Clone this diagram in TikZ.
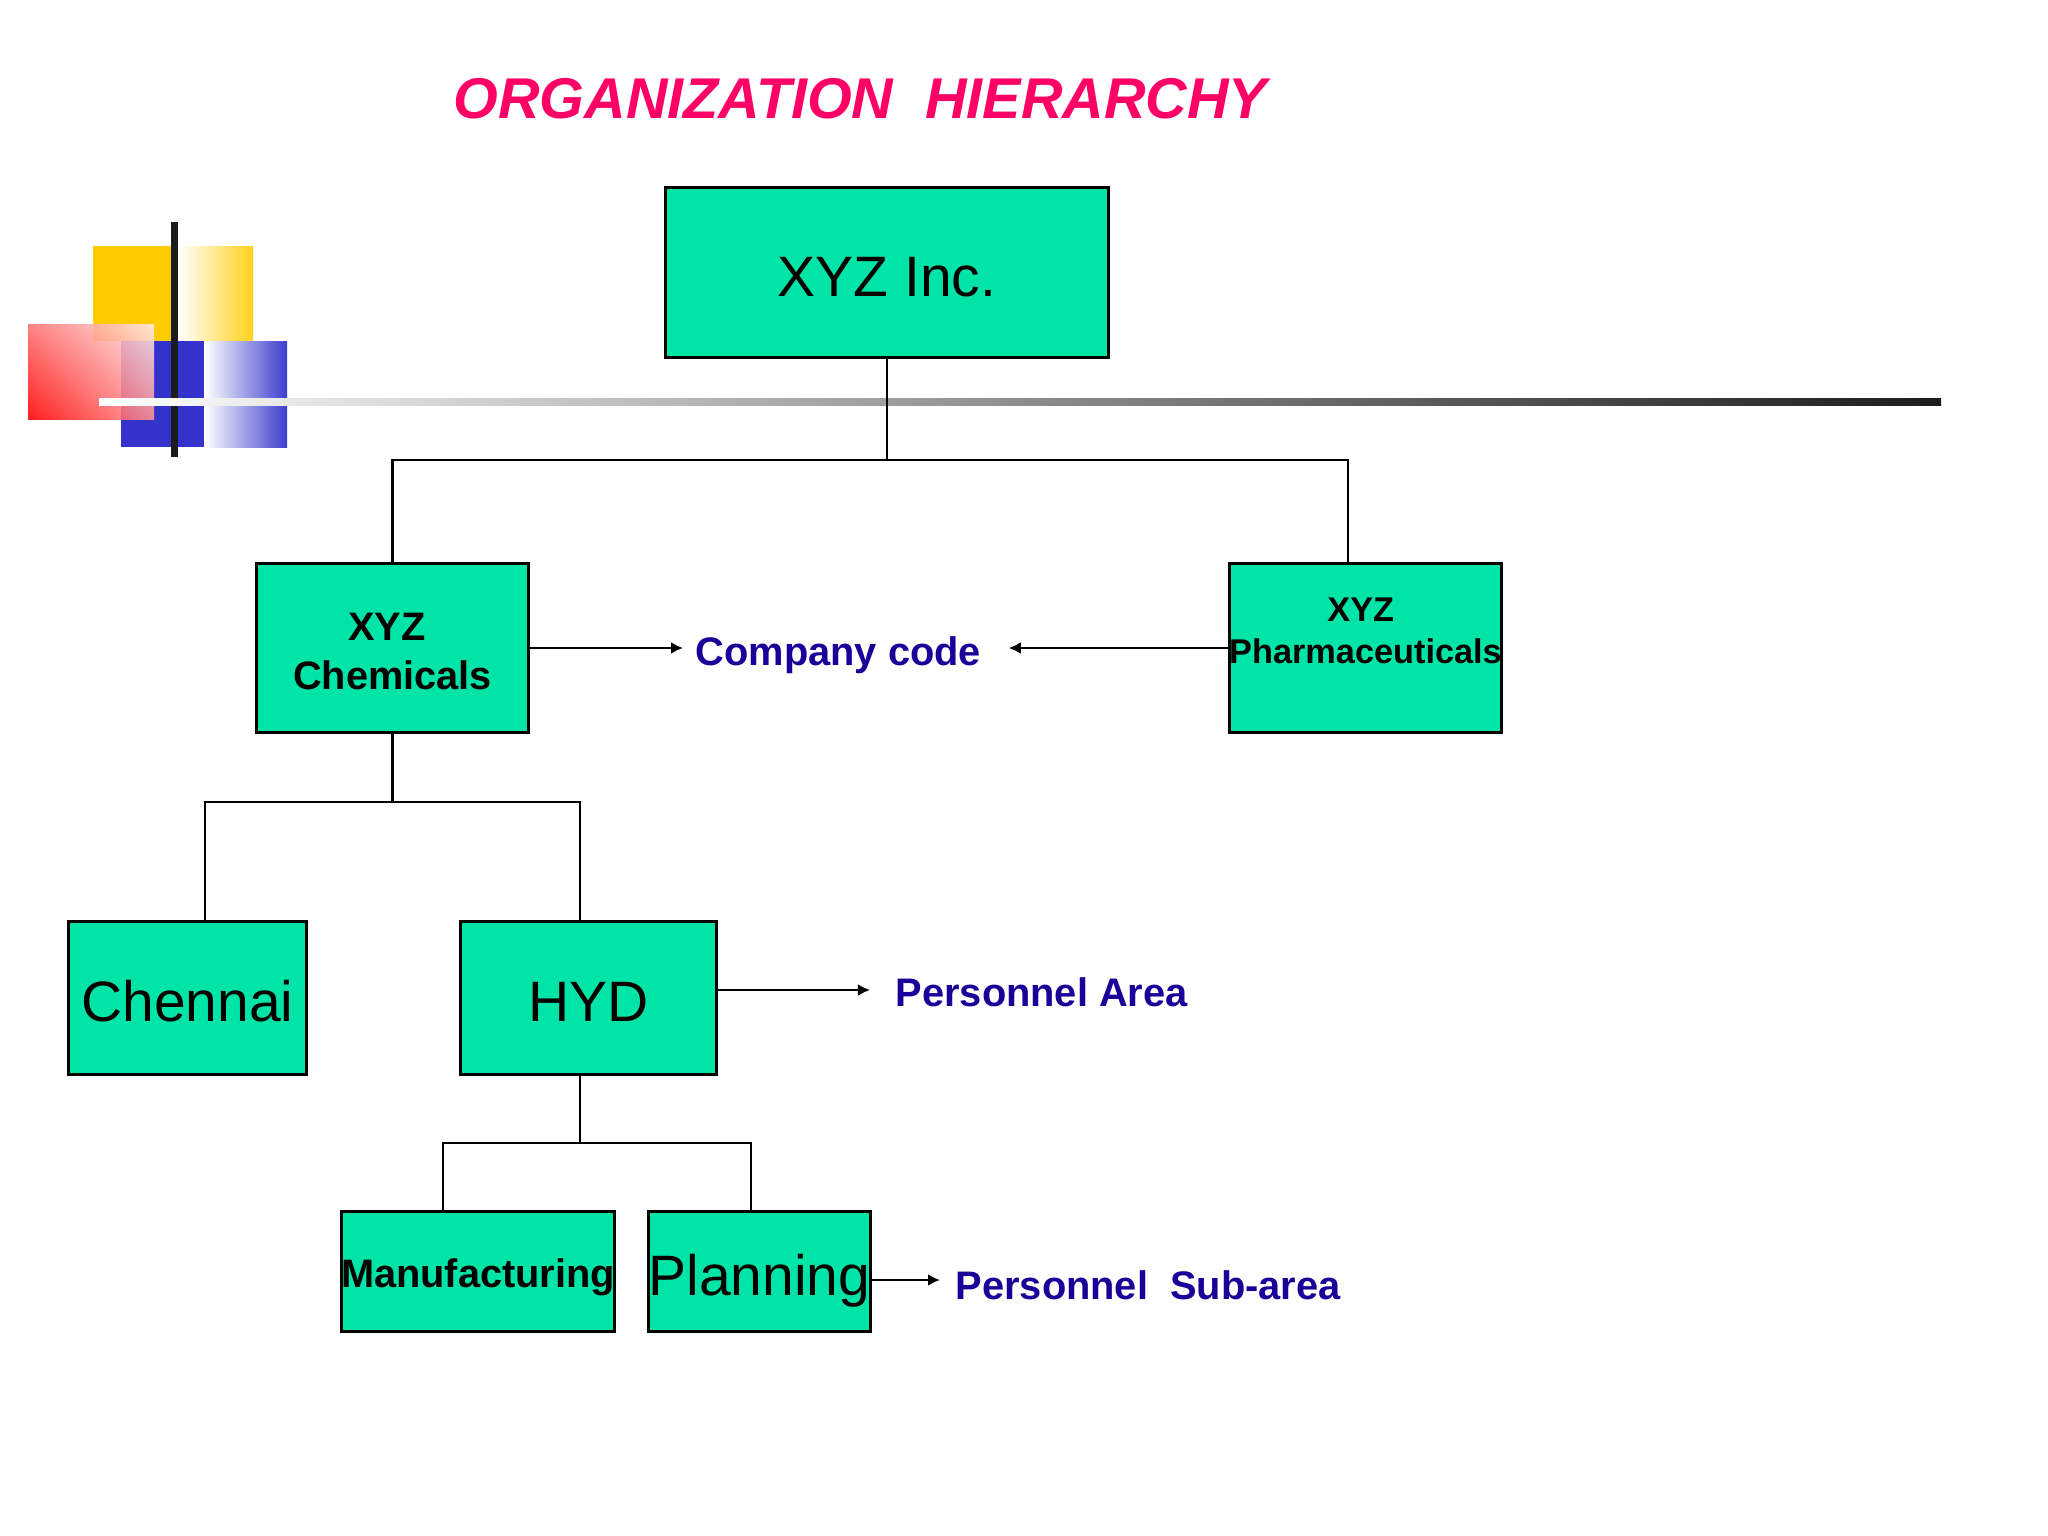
\documentclass[tikz,border=0pt]{standalone}
\usepackage{fontspec}
\setmainfont{Liberation Sans}
\usepackage{pgf,tikz}
\usetikzlibrary{arrows}
\usetikzlibrary{arrows.meta}
\usetikzlibrary{shadings}
\definecolor{boxgreen}{HTML}{00E4A8}
\definecolor{labelblue}{HTML}{1A0099}
\definecolor{titlepink}{HTML}{FF0066}
\definecolor{barblack}{HTML}{1C1C1C}
\definecolor{sqyellow}{HTML}{FFCC00}
\definecolor{sqblue}{HTML}{3333CC}
\tikzset{
  orgbox/.style={draw=black,line width=0.85pt,fill=boxgreen,inner sep=0pt,align=center,text=black},
  bigtext/.style={font=\fontsize{16.2}{19}\selectfont,text height=0.47cm,text depth=0pt},
  boldtext/.style={font=\fontsize{11.3}{13.7}\selectfont\bfseries},
  bluelabel/.style={anchor=west,inner xsep=0.12cm,inner ysep=0pt,text=labelblue,font=\fontsize{11.32}{14}\selectfont\bfseries},
  orgline/.style={line width=0.8pt},
  orgarrow/.style={line width=0.8pt,-{Latex[length=1.2mm,width=1.2mm]}}
}
\begin{document}
\begin{tikzpicture}[x=0.01cm,y=-0.01cm]
    \useasboundingbox (0,0) rectangle (2048,1536);
    \fill[white] (0,0) rectangle (2048,1536);
    \fill[sqyellow] (93,246) rectangle (171,341);
    \shade[left color=white,right color=sqyellow!90!white] (178,246) rectangle (253,341);
    \fill[sqblue] (121,341) rectangle (204,447);
    \shade[left color=white,right color=sqblue!95!white] (204,341) rectangle (287,447);
    \shade[lower left=red,upper left=red!55!white,lower right=red!42!white,upper right=red!8!white,opacity=0.88] (28,324) rectangle (154,419);
    \fill[barblack] (171,222) rectangle (178,457);
    \shade[left color=white,right color=barblack] (99,398.5) rectangle (1941,405.5);
    \node[font=\fontsize{16.35}{20}\selectfont\bfseries\itshape,text=titlepink,anchor=west,inner sep=0pt] (title) at (453,99) {ORGANIZATION\ \ HIERARCHY};
    \node[orgbox,bigtext,minimum width=4.42cm,minimum height=1.69cm] (inc) at (887,272.5) {XYZ Inc.};
    \node[orgbox,boldtext,minimum width=2.71cm,minimum height=1.68cm] (chem) at (392.5,648) {\rule{0pt}{9.8pt}XYZ\ \ \\Chemicals};
    \node[orgbox,font=\fontsize{9.75}{11.9}\selectfont\bfseries,minimum width=2.71cm,minimum height=1.68cm] (pharma) at (1365.5,648) {XYZ\ \ \\Pharmaceuticals\\[-2.3pt]\mbox{}};
    \node[orgbox,bigtext,minimum width=2.37cm,minimum height=1.52cm] (chennai) at (187.5,998) {Chennai};
    \node[orgbox,bigtext,minimum width=2.55cm,minimum height=1.52cm] (hyd) at (588.5,998) {HYD};
    \node[orgbox,boldtext,text height=0.31cm,text depth=0pt,minimum width=2.72cm,minimum height=1.19cm] (manuf) at (478,1271.5) {Manufacturing};
    \node[orgbox,bigtext,minimum width=2.20cm,minimum height=1.19cm] (plan) at (759.5,1271.5) {Planning};
    \node[bluelabel] (ccode) at (683,655) {Company code};
    \node[bluelabel] (parea) at (883,992) {Personnel Area};
    \node[bluelabel] (psub) at (943,1285) {Personnel\ \ Sub-area};
    \coordinate (topbus) at (887,460);
    \coordinate (chembus) at (392.5,802);
    \coordinate (hydbus) at (580,1143);
    \coordinate (pharmadrop) at (1348,460);
    \coordinate (chennaidrop) at (205,802);
    \coordinate (hyddrop) at (580,802);
    \coordinate (manufdrop) at (443,1143);
    \coordinate (plandrop) at (751,1143);
    \coordinate (hydout) at (717,990);
    \coordinate (planout) at (871,1280);
    \draw[orgline] (inc) -- (topbus);
    \draw[orgline] (chem.north) |- (topbus) -- (pharmadrop) -- (pharmadrop |- pharma.north);
    \draw[orgline] (chem) -- (chembus);
    \draw[orgline] (chennaidrop |- chennai.north) -- (chennaidrop) -- (hyddrop) -- (hyddrop |- hyd.north);
    \draw[orgline] (hydbus |- hyd.south) -- (hydbus);
    \draw[orgline] (manufdrop |- manuf.north) -- (manufdrop) -- (plandrop) -- (plandrop |- plan.north);
    \draw[orgarrow] (chem.east) -- (chem.east -| ccode.west);
    \draw[orgarrow,shorten >=0.15cm] (pharma.west) -- (pharma.west -| ccode.east);
    \draw[orgarrow,shorten >=0.13cm] (hydout) -- (hydout -| parea.west);
    \draw[orgarrow,shorten >=0.03cm] (planout) -- (planout -| psub.west);
\end{tikzpicture}
\end{document}
